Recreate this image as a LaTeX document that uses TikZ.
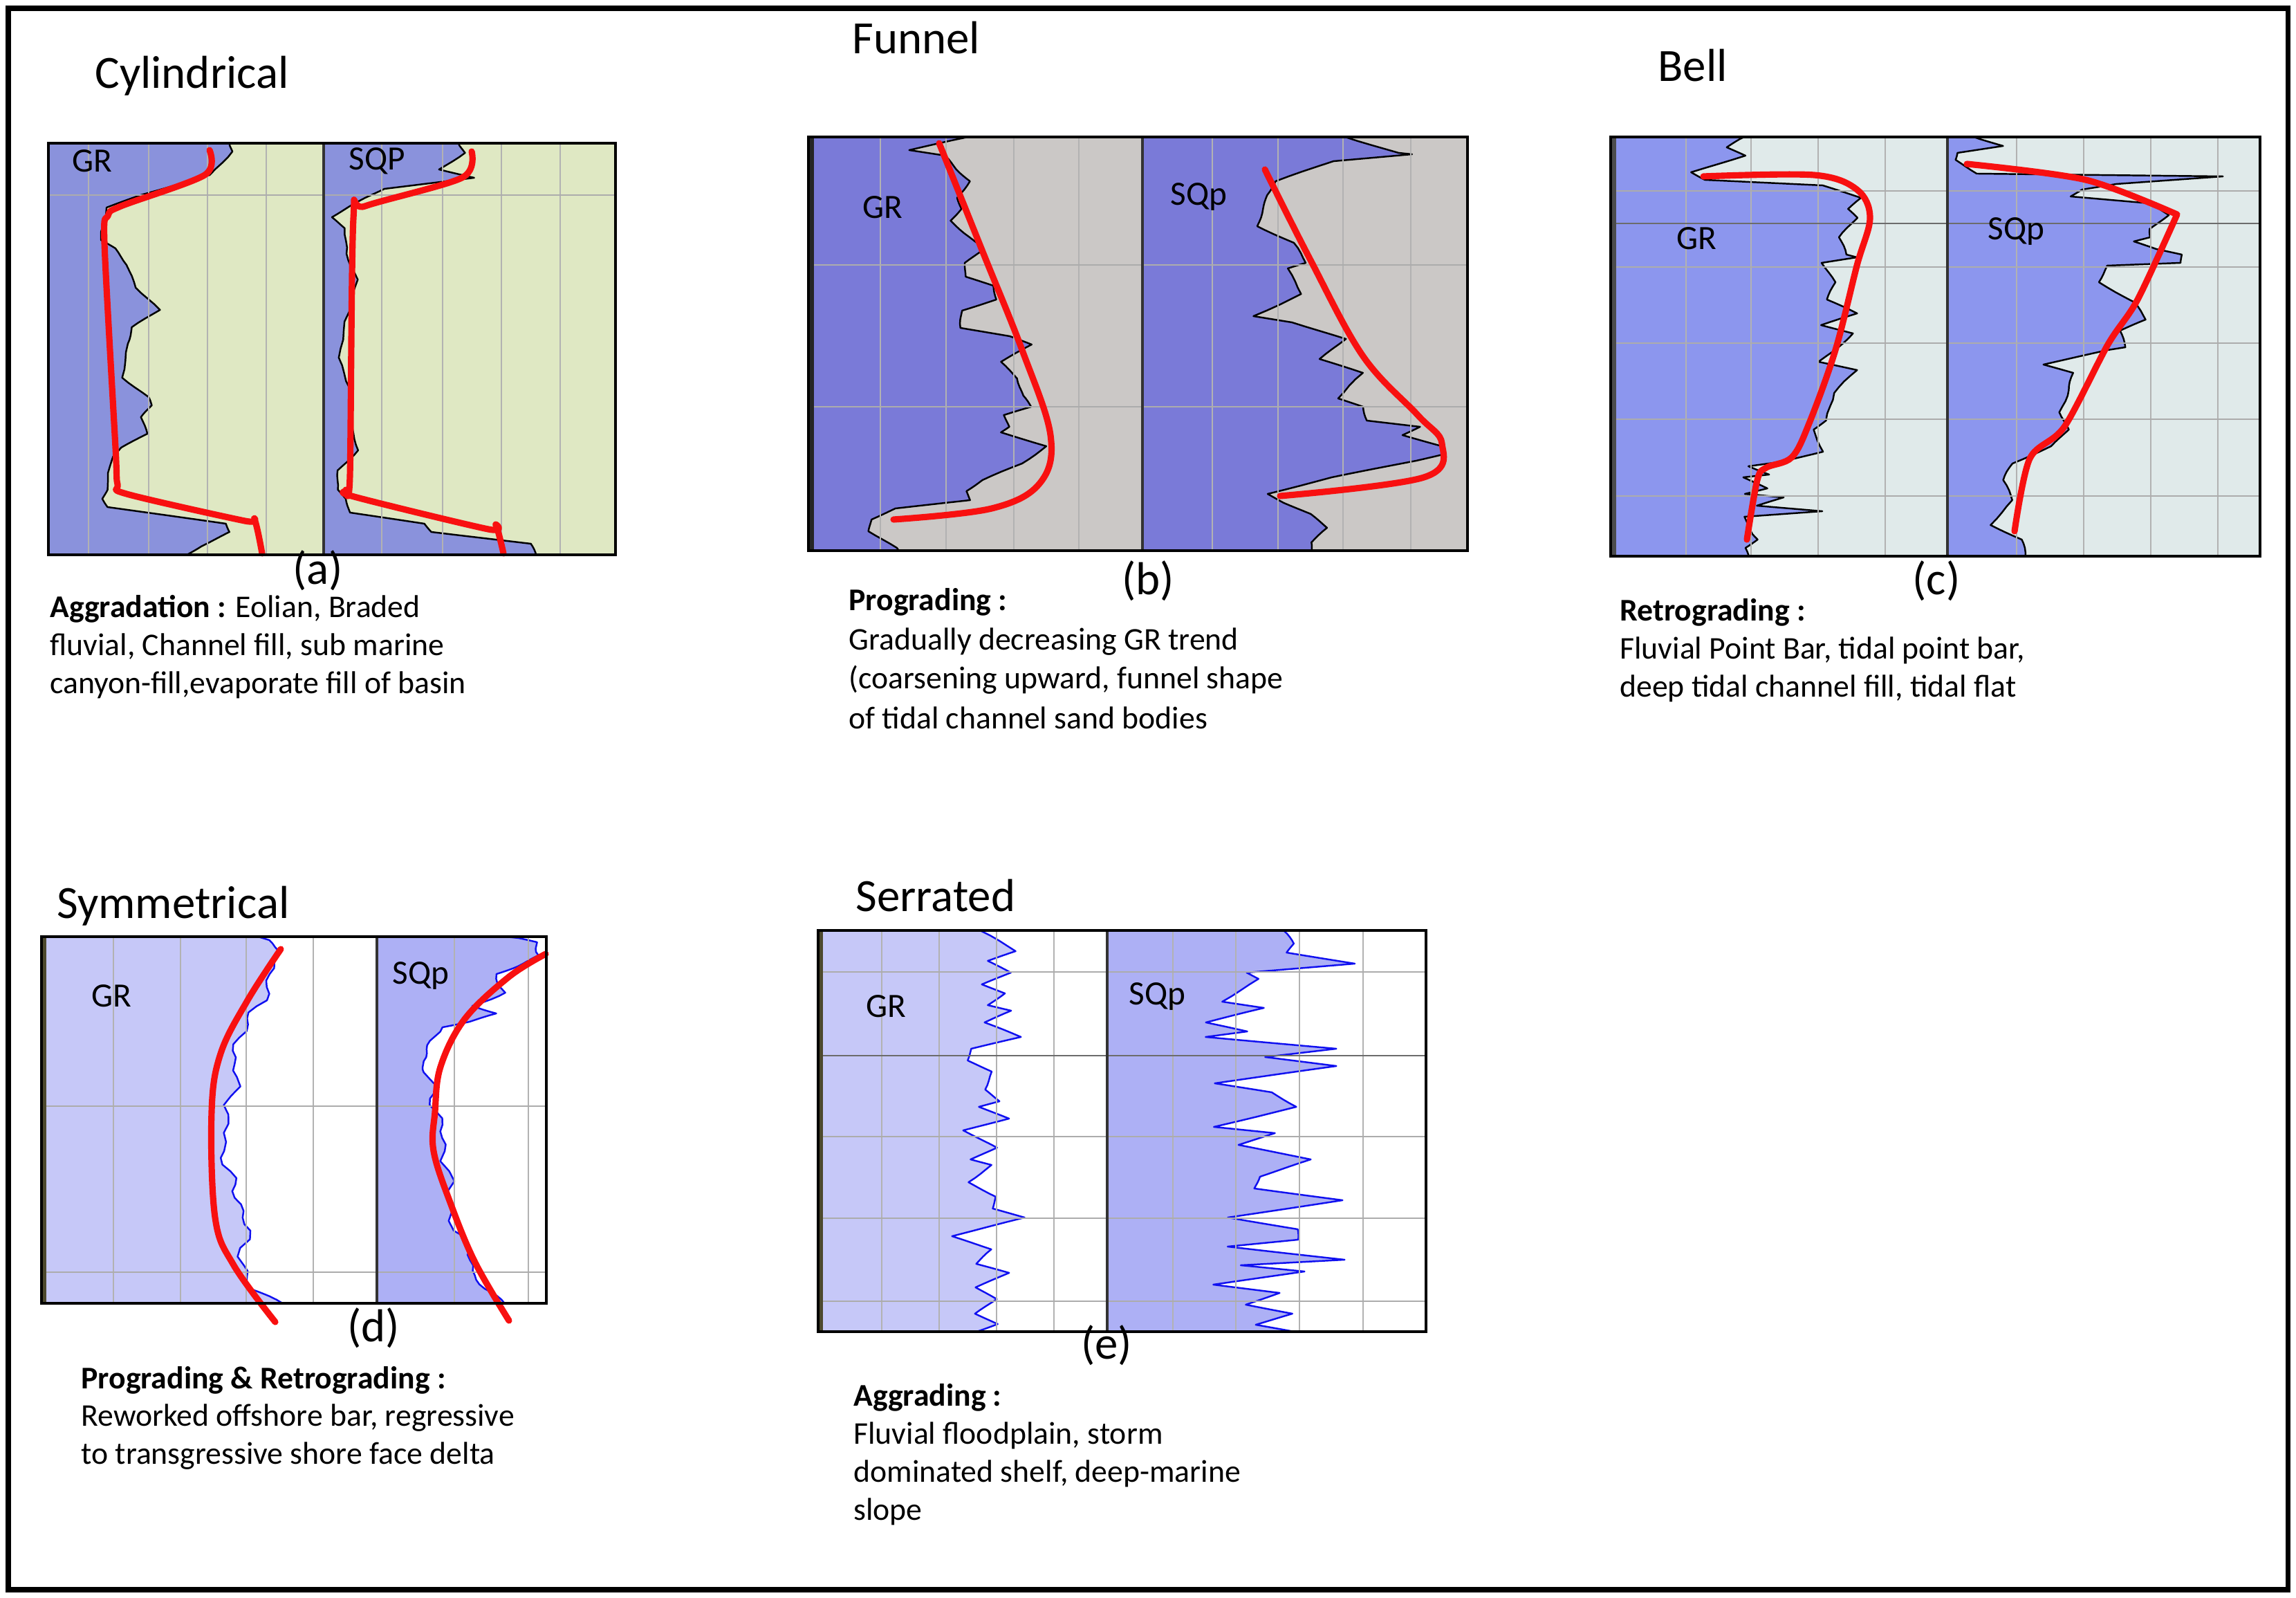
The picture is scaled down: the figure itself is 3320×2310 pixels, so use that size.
\documentclass[tikz,border=0pt]{standalone}
\usepackage{fontspec}
\setmainfont{Carlito}
\definecolor{bgA}{HTML}{DFE8C3}\definecolor{blA}{HTML}{8A92DC}
\definecolor{bgB}{HTML}{CBC8C6}\definecolor{blB}{HTML}{7A7AD8}
\definecolor{bgC}{HTML}{E0EAEA}\definecolor{blC}{HTML}{8C96EE}
\definecolor{blD}{HTML}{C6C8F8}\definecolor{blE}{HTML}{ADB0F5}
\definecolor{trend}{HTML}{F81010}\definecolor{logblue}{HTML}{1010F0}
\tikzset{grid/.style={draw=gray!60,line width=0.6pt},
 hgrid/.style={draw=gray!65,line width=0.6pt},
 hdark/.style={draw=gray!85!black,line width=0.8pt},
 divider/.style={draw=black!80,line width=1.4pt},
 trendline/.style={draw=trend,line width=2.6pt,line cap=round,line join=round},
 title/.style={font=\fontsize{19}{22}\selectfont,anchor=west},
 sub/.style={font=\fontsize{19}{22}\selectfont},
 lab/.style={font=\fontsize{14}{16}\selectfont},
 body/.style={font=\fontsize{13}{16}\selectfont,anchor=west}}
% jagged path: amp, x0, y0, list x/y
\newcommand\jagpath[4]{%
 (#2,#3) \foreach \x/\y [remember=\x as \px (initially #2), remember=\y as \py (initially #3)] in {#4} {
   \foreach \t in {0.25,0.5,0.75,1} {
     -- ({\px+(\x-\px)*\t+#1*(0.6*sin((\py+(\y-\py)*\t)*8.3)+0.4*sin((\py+(\y-\py)*\t)*5.1+30))}, {\py+(\y-\py)*\t})
   }}}
% amp, fill, line, left x, top y, bottom y, x0, y0, list
\newcommand\jagtrack[9]{%
 \fill[#2] (#4,#5) -- \jagpath{#1}{#7}{#8}{#9} -- (#4,#6) -- cycle;%
 \draw[#3,line width=0.7pt,line join=round] \jagpath{#1}{#7}{#8}{#9};}
\begin{document}
\begin{tikzpicture}[x=0.01cm,y=-0.01cm]
\useasboundingbox (0,0) rectangle (3320,2310);
\fill[white] (0,0) rectangle (3320,2310);
\draw[line width=2pt] (12,12) rectangle (3308,2298);
% ---------- (a)
\node[title] (ta) at (125,110) {Cylindrical};
\fill[bgA] (70,207) rectangle (890,802);
\jagtrack{2}{blA}{black}{70}{207}{802}{332}{207}{335/219,305/253,203/282,154/300,146/347,165/359,184/383,197/416,230/448,192/473,184/497,178/546,213/574,219/586,205/603,213/627,175/647,162/660,154/708,148/721,156/733,327/757,333/769,289/790,270/802}
\jagtrack{2}{blA}{black}{468}{207}{802}{663}{207}{671/221,636/245,687/257,555/273,528/286,506/298,479/314,500/330,500/367,517/404,500/465,490/517,506/562,509/619,517/651,490/680,487/708,500/721,506/741,614/757,625/769,766/786,775/802}
\foreach \x in {128,215,300,385,552,640,725,810} \draw[grid] (\x,207) -- (\x,802);
\draw[hgrid] (70,282) -- (890,282);
\draw[divider] (468,207) -- (468,802);
\draw[trendline] plot[smooth,tension=0.5] coordinates {(303,217)(296,253)(175,298)(156,312)(151,351)(167,647)(170,700)(183,714)(354,753)(368,751)(379,800)};
\draw[trendline] plot[smooth,tension=0.5] coordinates {(682,219)(668,257)(528,298)(511,316)(506,688)(500,708)(512,718)(706,765)(717,759)(728,800)};
\draw[line width=1.2pt] (70,207) rectangle (890,802);
\node[lab,anchor=west] (ga) at (92,233) {GR};
\node[lab,anchor=west] (sa) at (492,233) {SQP};
\node[sub] (la) at (460,825) {(a)};
\node[body] (xa1) at (60,880) {\textbf{Aggradation :} Eolian, Braded};
\node[body] (xa2) at (60,935) {fluvial, Channel fill, sub marine};
\node[body] (xa3) at (60,990) {canyon-fill,evaporate fill of basin};
% ---------- (b)
\node[title] (tb) at (1220,55) {Funnel};
\fill[bgB] (1169,198) rectangle (2122,796);
\jagtrack{2}{blB}{black}{1169}{198}{796}{1400}{198}{1314/217,1365/225,1384/245,1403/262,1384/286,1390/302,1374/319,1403/343,1421/360,1396/380,1396/400,1437/413,1440/433,1390/449,1390/474,1459/486,1491/498,1447/523,1472/547,1478/572,1491/588,1453/600,1459/617,1447/625,1513/645,1478/670,1421/694,1396/710,1403/723,1295/735,1260/751,1257/768,1295/792,1298/796}
\jagtrack{2}{blB}{black}{1652}{198}{796}{1945}{198}{2021/221,2040/223,1927/233,1845/262,1832/282,1826/302,1819/327,1870/351,1889/380,1863/388,1882/425,1813/457,1870/466,1945/490,1908/519,1971/539,1933/576,1971/588,1977/608,2053/617,2028/629,2085/645,2085/657,2047/666,1927/690,1832/714,1857/727,1895/743,1920/763,1895/784,1895/796}
\foreach \x in {1273,1368,1466,1560,1753,1848,1942,2040} \draw[grid] (\x,198) -- (\x,796);
\foreach \y in {383,588} \draw[hgrid] (1169,\y) -- (2122,\y);
\fill[black!85] (1169,198) rectangle (1177,796);
\draw[divider] (1652,198) -- (1652,796);
\draw[trendline] plot[smooth,tension=0.6] coordinates {(1358,207)(1421,364)(1478,506)(1519,629)(1504,698)(1434,735)(1292,751)};
\draw[trendline] plot[smooth,tension=0.6] coordinates {(1829,245)(1895,376)(1971,515)(2050,600)(2085,641)(2059,690)(1851,717)};
\draw[line width=1.2pt] (1169,198) rectangle (2122,796);
\node[lab,anchor=west] (gb) at (1235,300) {GR};
\node[lab,anchor=west] (sb) at (1680,285) {SQp};
\node[sub] (lb) at (1660,840) {(b)};
\node[body] (xb1) at (1215,870) {\textbf{Prograding :}};
\node[body] (xb2) at (1215,928) {Gradually decreasing GR trend};
\node[body] (xb3) at (1215,983) {(coarsening upward, funnel shape};
\node[body] (xb4) at (1215,1038) {of tidal channel sand bodies};
% ---------- (c)
\node[title] (tc) at (2385,95) {Bell};
\fill[bgC] (2329,198) rectangle (3268,804);
\jagtrack{2}{blC}{black}{2329}{198}{804}{2522}{198}{2497/213,2522/225,2447/249,2466/260,2635/268,2691/286,2672/302,2685/315,2660/343,2669/368,2685/372,2635/380,2654/408,2641/433,2685/453,2635/470,2679/482,2654/506,2629/523,2685/535,2651/568,2641/608,2622/621,2635/653,2572/668,2529/674,2560/686,2522/690,2554/706,2522/714,2579/719,2541/731,2635/739,2522/747,2535/772,2541/780,2522/792,2529/804}
\jagtrack{2}{blC}{black}{2816}{198}{804}{2854}{198}{2897/211,2829/221,2826/231,2860/251,3216/255,3060/266,3010/274,2994/284,3110/294,3135/311,3110/331,3110/343,3085/349,3116/360,3154/368,3154/380,3048/384,3035/408,3085/437,3104/462,3066/478,3073/502,3048/506,2954/527,2998/539,2991/564,2979/596,2991/621,2966/645,2910/670,2897/694,2910/723,2879/759,2923/780,2929/804}
\foreach \x in {2438,2532,2629,2726,2916,3013,3110,3207} \draw[grid] (\x,198) -- (\x,804);
\foreach \y in {276,386,496,606,717} \draw[hgrid] (2329,\y) -- (3268,\y);
\draw[hdark] (2329,323) -- (3268,323);
\fill[black!70] (2329,198) rectangle (2337,804);
\draw[divider] (2816,198) -- (2816,804);
\draw[trendline] plot[smooth,tension=0.55] coordinates {(2463,255)(2623,253)(2685,274)(2704,315)(2685,384)(2654,506)(2616,612)(2591,661)(2554,676)(2541,694)(2526,780)};
\draw[trendline] plot[smooth,tension=0.5] coordinates {(2844,237)(3016,260)(3148,310)} -- plot[smooth,tension=0.5] coordinates {(3148,310)(3091,433)(3048,498)(2985,617)(2935,663)(2913,768)};
\draw[line width=1.2pt] (2329,198) rectangle (3268,804);
\node[lab,anchor=west] (gc) at (2412,345) {GR};
\node[lab,anchor=west] (sc) at (2862,335) {SQp};
\node[sub] (lc) at (2800,840) {(c)};
\node[body] (xc1) at (2330,885) {\textbf{Retrograding :}};
\node[body] (xc2) at (2330,940) {Fluvial Point Bar, tidal point bar,};
\node[body] (xc3) at (2330,995) {deep tidal channel fill, tidal flat};
% ---------- (d)
\node[title] (td) at (70,1310) {Symmetrical};
\jagtrack{9}{blD}{logblue}{60}{1354}{1884}{373}{1354}{408/1374,388/1408,383/1446,353/1481,338/1519,343/1557,328/1611,323/1664,333/1703,348/1741,358/1779,348/1829,363/1863,410/1884}
\jagtrack{9}{blE}{logblue}{545}{1354}{1884}{731}{1354}{771/1362,786/1381,746/1397,716/1408,726/1435,687/1454,726/1465,677/1477,632/1485,622/1511,612/1534,617/1550,627/1588,637/1626,642/1664,652/1722,652/1779,687/1806,677/1837,702/1863,731/1884}
\foreach \x in {164,261,356,453,657,764} \draw[grid] (\x,1354) -- (\x,1884);
\foreach \y in {1599,1839} \draw[hgrid] (60,\y) -- (790,\y);
\fill[black!60!olive] (60,1354) rectangle (67,1884);
\draw[divider] (545,1354) -- (545,1884);
\draw[trendline] plot[smooth,tension=0.6] coordinates {(406,1372)(358,1446)(319,1523)(306,1607)(311,1760)(338,1829)(398,1911)};
\draw[trendline] plot[smooth,tension=0.6] coordinates {(789,1379)(736,1412)(672,1473)(637,1542)(629,1607)(627,1664)(652,1741)(687,1825)(736,1909)};
\draw[line width=1.2pt] (60,1354) rectangle (790,1884);
\node[lab,anchor=west] (gd) at (120,1440) {GR};
\node[lab,anchor=west] (sd) at (555,1410) {SQp};
\node[sub] (ld) at (540,1920) {(d)};
\node[body] (xd1) at (105,1995) {\textbf{Prograding \& Retrograding :}};
\node[body] (xd2) at (105,2050) {Reworked offshore bar, regressive};
\node[body] (xd3) at (105,2105) {to transgressive shore face delta};
% ---------- (e)
\node[title] (te) at (1225,1295) {Serrated};
\jagtrack{2}{blD}{logblue}{1183}{1345}{1925}{1417}{1345}{1470/1375,1429/1389,1461/1406,1420/1423,1452/1436,1429/1453,1464/1461,1423/1478,1476/1499,1405/1516,1399/1533,1435/1549,1423/1575,1447/1592,1417/1600,1458/1617,1393/1634,1441/1659,1405/1676,1435/1684,1399/1709,1441/1730,1435/1747,1482/1760,1375/1787,1435/1806,1411/1827,1458/1840,1411/1861,1441/1878,1411/1899,1441/1914,1411/1925}
\jagtrack{2}{blE}{logblue}{1601}{1345}{1925}{1856}{1345}{1870/1364,1862/1377,1959/1393,1802/1406,1820/1415,1767/1448,1829/1457,1743/1478,1802/1491,1743/1499,1933/1516,1829/1528,1933/1541,1755/1566,1838/1579,1876/1600,1755/1629,1844/1638,1790/1655,1897/1676,1820/1701,1814/1718,1942/1735,1776/1760,1876/1777,1876/1792,1776/1802,1945/1821,1793/1829,1885/1838,1755/1857,1850/1869,1802/1886,1870/1899,1814/1915,1870/1925}
\foreach \x in {1275,1358,1441,1524,1696,1787,1879,1971} \draw[grid] (\x,1345) -- (\x,1925);
\foreach \y in {1405,1643,1761,1881} \draw[hgrid] (1183,\y) -- (2062,\y);
\draw[hdark] (1183,1526) -- (2062,1526);
\fill[black!60!olive] (1183,1345) rectangle (1190,1925);
\draw[divider] (1601,1345) -- (1601,1925);
\draw[line width=1.2pt] (1183,1345) rectangle (2062,1925);
\node[lab,anchor=west] (ge) at (1240,1455) {GR};
\node[lab,anchor=west] (se) at (1620,1440) {SQp};
\node[sub] (le) at (1600,1945) {(e)};
\node[body] (xe1) at (1222,2020) {\textbf{Aggrading :}};
\node[body] (xe2) at (1222,2075) {Fluvial floodplain, storm};
\node[body] (xe3) at (1222,2130) {dominated shelf, deep-marine};
\node[body] (xe4) at (1222,2185) {slope};
\end{tikzpicture}
\end{document}
